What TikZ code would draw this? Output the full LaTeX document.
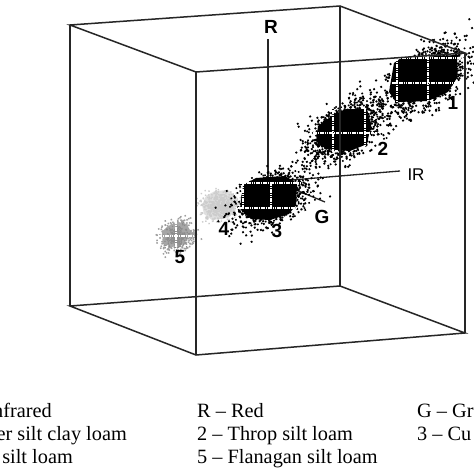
\documentclass[tikz,border=0pt]{standalone}
\usepackage{fontspec}
\setmainfont{Liberation Serif}
\newfontfamily\labfont{Liberation Sans}
\newcommand\dotcloud[8]{%
  \begin{scope}[shift={(#1,#2)},rotate=#5]
    \foreach \k in {1,...,#6}{%
      \pgfmathsetmacro\uu{(rand+rand+rand)*#3/1.7}%
      \pgfmathsetmacro\vv{(rand+rand+rand)*#4/1.7}%
      \fill[#7] (\uu,\vv) rectangle ++(#8,#8);
    }
  \end{scope}}
\begin{document}
\begin{tikzpicture}[x=1pt,y=-1pt,
  edge/.style={line width=1.5pt, black!85},
  axisline/.style={line width=1.3pt, black!85},
  lab/.style={font=\labfont\bfseries\fontsize{19}{19}\selectfont, inner sep=0pt},
  smalllab/.style={font=\labfont\fontsize{17}{17}\selectfont, inner sep=0pt},
  legend/.style={font=\fontsize{20.3}{22}\selectfont, inner sep=0pt, anchor=base west},
  gridw/.style={white, line width=1.5pt, dash pattern=on 1.6pt off 0.7pt},
  core/.style={fill=black}]
\useasboundingbox (0,0) rectangle (474,474);
\clip (0,0) rectangle (474,474);
\fill[white] (0,0) rectangle (474,474);
\pgfmathsetseed{11}

% cube corners
\coordinate (A) at (70,25);
\coordinate (B) at (340,6);
\coordinate (C) at (465,53);
\coordinate (D) at (196,72);
\coordinate (E) at (70,306);
\coordinate (F) at (340,286);
\coordinate (G) at (465,333);
\coordinate (H) at (196,355);

% axes
\coordinate (O) at (268,182);
\coordinate (Rtop) at (268,39);
\coordinate (IRend) at (400,171);
\coordinate (Gstart) at (296,190);
\coordinate (Gend) at (325,202);
\draw[axisline] (O) -- (Rtop);
\draw[axisline] (O) -- (IRend);
\draw[axisline] (Gstart) -- (Gend);

% cluster 5 (grey)
\dotcloud{176}{236}{14}{12}{20}{550}{gray!75}{1.5}
\fill[gray!70] (162,232) -- (168,226) -- (178,222) -- (187,224) -- (190,231) -- (188,238) -- (181,245) -- (172,247) -- (163,243) -- cycle;
\dotcloud{176}{236}{10}{9}{20}{220}{gray!90}{1.2}
\draw[gridw] (176,220) -- (176,250);
\draw[gridw] (158,236) -- (193,236);

% cluster 4 (light grey)
\fill[gray!25] (202,205) -- (206,196) -- (215,191) -- (228,190) -- (235,196) -- (235,211) -- (228,218) -- (212,220) -- (204,214) -- cycle;
\dotcloud{219}{205}{16}{12}{10}{500}{gray!40}{1.4}

% cluster 3
\dotcloud{270}{198}{38}{20}{30}{650}{black}{1.8}
\fill[core] (243,185) -- (256,178) -- (285,176) -- (297,183) -- (296,205) -- (289,214) -- (270,220) -- (251,219) -- (240,209) -- cycle;
\dotcloud{270}{198}{30}{17}{20}{500}{black}{1.6}
\draw[gridw] (240,183) -- (300,183);
\draw[gridw] (238,208) -- (297,208);
\draw[gridw] (243,182) -- (243,209);
\draw[gridw] (271,182) -- (271,209);

% cluster 2
\dotcloud{345}{130}{40}{21}{35}{750}{black}{1.8}
\fill[core] (318,126) -- (333,115) -- (346,109) -- (367,109) -- (371,125) -- (367,144) -- (350,151) -- (326,149) -- (316,141) -- cycle;
\dotcloud{345}{130}{30}{18}{30}{500}{black}{1.6}
\draw[gridw] (313,133) -- (377,133);
\draw[gridw] (333,110) -- (333,152);
\draw[gridw] (365,108) -- (365,148);

% cluster 1
\dotcloud{425}{78}{44}{22}{35}{800}{black}{1.8}
\fill[core] (394,63) -- (401,58) -- (457,55) -- (457,78) -- (448,92) -- (428,101) -- (396,102) -- (389,92) -- cycle;
\dotcloud{425}{78}{32}{18}{30}{500}{black}{1.6}
\draw[gridw] (395,58) -- (462,58);
\draw[gridw] (392,83) -- (462,83);
\draw[gridw] (397,57) -- (397,102);
\draw[gridw] (428,56) -- (428,102);

% cube edges
\draw[edge] (A) -- (B) -- (C) -- (D) -- cycle;
\draw[edge] (E) -- (F) -- (G) -- (H) -- cycle;
\draw[edge] (A) -- (E);
\draw[edge] (B) -- (F);
\draw[edge] (C) -- (G);
\draw[edge] (D) -- (H);

% labels
\node[lab] (Rlab) at (271,27) {R};
\node[smalllab] (IRlab) at (416,175) {IR};
\node[lab] (Glab) at (322,217) {G};
\node[lab] (n1) at (453,103) {1};
\node[lab] (n2) at (383,149) {2};
\node[lab] (n3) at (277,231) {3};
\node[lab] (n4) at (224,229) {4};
\node[lab] (n5) at (180,257) {5};

% legend
\node[legend, anchor=base east] (l1) at (52,417) {Infrared};
\node[legend, anchor=base east] (l2) at (127,440) {er silt clay loam};
\node[legend, anchor=base east] (l3) at (73,463) {silt loam};
\node[legend] (l4) at (197,417) {R – Red};
\node[legend] (l5) at (197,440) {2 – Throp silt loam};
\node[legend] (l6) at (197,463) {5 – Flanagan silt loam};
\node[legend] (l7) at (417,417) {G – Green};
\node[legend] (l8) at (417,440) {3 – Cu};
\end{tikzpicture}
\end{document}
